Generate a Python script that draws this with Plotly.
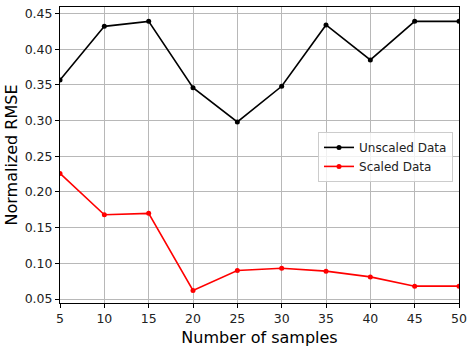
import plotly.graph_objects as go

samples = [5, 10, 15, 20, 25, 30, 35, 40, 45, 50]
unscaled = [0.357, 0.432, 0.439, 0.346, 0.298, 0.348, 0.434, 0.385, 0.439, 0.439]
scaled = [0.226, 0.168, 0.170, 0.062, 0.090, 0.093, 0.089, 0.081, 0.068, 0.068]
x_ticks = [5, 10, 15, 20, 25, 30, 35, 40, 45, 50]
y_ticks = [0.05, 0.10, 0.15, 0.20, 0.25, 0.30, 0.35, 0.40, 0.45]

fig = go.Figure()
fig.add_trace(go.Scatter(x=samples, y=unscaled, mode="lines+markers", name="Unscaled Data",
                         line=dict(color="black", width=1.6), marker=dict(color="black", size=5)))
fig.add_trace(go.Scatter(x=samples, y=scaled, mode="lines+markers", name="Scaled Data",
                         line=dict(color="red", width=1.6), marker=dict(color="red", size=5)))

axis_common = dict(showline=True, linecolor="black", linewidth=1, mirror=True,
                   showgrid=True, gridcolor="#b8b8b8", gridwidth=1, zeroline=False,
                   ticks="outside", ticklen=4, tickcolor="black",
                   tickfont=dict(family="DejaVu Sans", size=12.5, color="#222"))

fig.update_xaxes(range=[5, 50], tickvals=x_ticks, automargin=False,
                 title=dict(text="Number of samples", font=dict(family="DejaVu Sans", size=16, color="black"), standoff=6),
                 **axis_common)
fig.update_yaxes(range=[0.0444, 0.4591], tickvals=y_ticks, tickformat=".2f", automargin=False,
                 title=dict(text="Normalized RMSE", font=dict(family="DejaVu Sans", size=16, color="black"), standoff=3),
                 **axis_common)

fig.update_layout(width=474, height=351, margin=dict(l=60, r=15, t=7, b=48, autoexpand=False),
                  plot_bgcolor="white", paper_bgcolor="white",
                  font=dict(family="DejaVu Sans"),
                  legend=dict(x=0.985, y=0.578, xanchor="right", yanchor="top",
                              bgcolor="rgba(255,255,255,0.8)", bordercolor="#cccccc", borderwidth=1,
                              font=dict(family="DejaVu Sans", size=12, color="#222"),
                              tracegroupgap=0, itemwidth=30),
                  showlegend=True)

fig.write_html("out.html")
